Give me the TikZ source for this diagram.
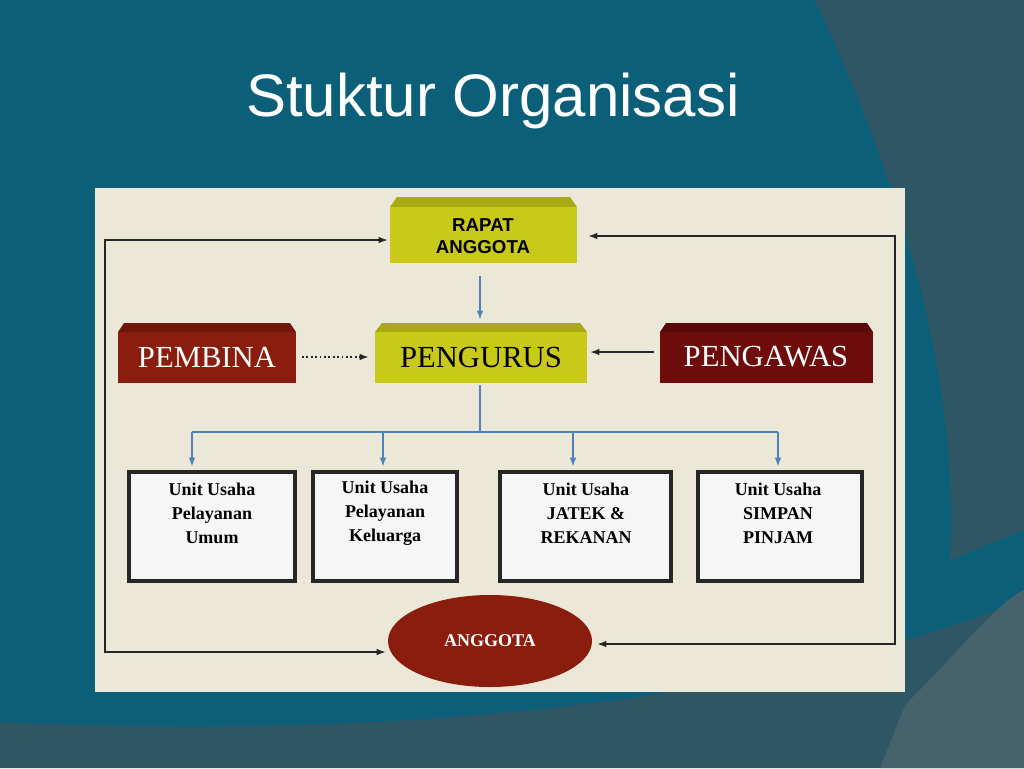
\documentclass[tikz,border=0pt]{standalone}
\usepackage{fontspec}
\setmainfont{Liberation Serif}
\newfontfamily\sansf{Liberation Sans}
\usetikzlibrary{arrows.meta,shapes.geometric}
\definecolor{teal}{HTML}{0B5F79}
\definecolor{slate}{HTML}{2E5664}
\definecolor{panel}{HTML}{ECE8D8}
\definecolor{olive}{HTML}{C9C919}
\definecolor{olivetop}{HTML}{A9A912}
\definecolor{brick}{HTML}{8A1D0D}
\definecolor{maroon}{HTML}{6E0B0B}
\definecolor{bluel}{HTML}{4F81BD}
\tikzset{
  blk/.style={-{Latex[length=7pt,width=5pt]},line width=1.3pt,black!85},
  blu/.style={-{Latex[length=7pt,width=5pt]},line width=1.4pt,bluel},
  ubox/.style={draw=black!85,line width=2.8pt,fill=white!93!gray},
  ufont/.style={font=\bfseries\fontsize{13.5}{18}\selectfont,align=center},
}
\begin{document}
\begin{tikzpicture}[x=0.75pt,y=-0.75pt]
\useasboundingbox (0,0) rectangle (1024,768);
\fill[teal] (0,0) rectangle (1024,768);
\fill[slate] (815,0) .. controls (900,180) and (960,380) .. (950,560) -- (1024,530) -- (1024,0) -- cycle;
\fill[slate] (0,722) .. controls (300,735) and (700,725) .. (1024,600) -- (1024,768) -- (0,768) -- cycle;
\fill[slate!70!gray] (905,705) .. controls (960,650) and (1000,600) .. (1024,590) -- (1024,768) -- (880,768) -- cycle;
\node[text=white,font=\sansf\fontsize{45}{52}\selectfont] (title) at (493,101) {Stuktur Organisasi};
\fill[panel] (95,188) rectangle (905,692);
% 3D boxes
\fill[olivetop] (390,207) -- (397,197) -- (570,197) -- (577,207) -- cycle;
\fill[olive] (390,207) rectangle (577,263);
\node[font=\sansf\bfseries\fontsize{14}{16}\selectfont,align=center] (rapat) at (483,236) {RAPAT\\ANGGOTA};
\fill[olivetop] (375,332) -- (382,323) -- (580,323) -- (587,332) -- cycle;
\fill[olive] (375,332) rectangle (587,383);
\node[font=\fontsize{23}{26}\selectfont] (peng) at (481,357) {PENGURUS};
\fill[brick!80!black] (118,332) -- (124,323) -- (290,323) -- (296,332) -- cycle;
\fill[brick] (118,332) rectangle (296,383);
\node[font=\fontsize{23}{26}\selectfont,text=white] (pemb) at (207,357) {PEMBINA};
\fill[maroon!80!black] (660,332) -- (666,323) -- (867,323) -- (873,332) -- cycle;
\fill[maroon] (660,332) rectangle (873,383);
\node[font=\fontsize{23}{26}\selectfont,text=white] (pengw) at (766,357) {PENGAWAS};
% units
\draw[ubox] (129,472) rectangle (295,581);
\draw[ubox] (313,472) rectangle (457,581);
\draw[ubox] (500,472) rectangle (671,581);
\draw[ubox] (698,472) rectangle (862,581);
\node[ufont] (u1) at (212,513) {Unit Usaha\\Pelayanan\\Umum};
\node[ufont] (u2) at (385,513) {Unit Usaha\\Pelayanan\\Keluarga};
\node[ufont] (u3) at (586,513) {Unit Usaha\\JATEK \&\\REKANAN};
\node[ufont] (u4) at (778,513) {Unit Usaha\\SIMPAN\\PINJAM};
\coordinate (u1t) at (192,467); \coordinate (u2t) at (383,467);
\coordinate (u3t) at (573,467); \coordinate (u4t) at (778,467);
% anggota
\node[ellipse,fill=brick,minimum width=153pt,minimum height=69pt,inner sep=0pt,text=white,font=\bfseries\fontsize{13.5}{15}\selectfont] (ang) at (490,641) {ANGGOTA};
% connectors
\coordinate (rb) at (480,276); \coordinate (pt) at (480,320);
\draw[blu] (rb) -- (pt);
\coordinate (pb) at (480,385); \coordinate (bar) at (480,432);
\draw[bluel,line width=1.4pt] (pb) -- (bar);
\draw[bluel,line width=1.4pt] (192,432) -- (778,432);
\foreach \x/\n in {192/u1t,383/u2t,573/u3t,778/u4t}{\draw[blu] (\x,432) -- (\n);}
\draw[blk,dotted,line width=1.8pt] (302,357) -- (369,357);
\draw[blk] (654,352) -- (590,352);
\coordinate (lc) at (105,446);
\draw[blk] (lc) |- (388,240);
\draw[blk] (lc) |- (386,652);
\coordinate (rc) at (895,440);
\draw[blk] (rc) |- (588,236);
\draw[blk] (rc) |- (597,644);
\end{tikzpicture}
\end{document}
